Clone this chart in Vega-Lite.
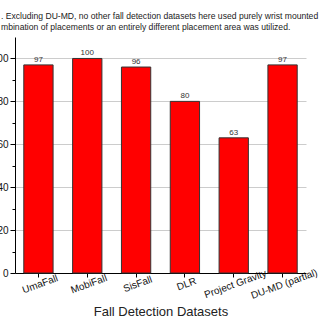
{
  "$schema": "https://vega.github.io/schema/vega-lite/v6.json",
  "width": 291,
  "height": 236,
  "autosize": {"type": "none"},
  "padding": {"left": 15, "top": 37, "right": 14, "bottom": 47},
  "background": "white",
  "config": {"view": {"stroke": null}, "font": "Liberation Sans"},
  "title": {
    "text": [". Excluding DU-MD, no other fall detection datasets here used purely wrist mounted", "mbination of placements or an entirely different placement area was utilized."],
    "anchor": "start",
    "frame": "group",
    "dx": -14,
    "fontSize": 8.6,
    "fontWeight": "normal",
    "color": "#222",
    "offset": 5,
    "lineHeight": 11
  },
  "data": {
    "values": [
      {"dataset": "UmaFall", "value": 97},
      {"dataset": "MobiFall", "value": 100},
      {"dataset": "SisFall", "value": 96},
      {"dataset": "DLR", "value": 80},
      {"dataset": "Project Gravity", "value": 63},
      {"dataset": "DU-MD (partial)", "value": 97}
    ]
  },
  "encoding": {
    "x": {
      "field": "dataset",
      "type": "nominal",
      "sort": null,
      "scale": {"paddingInner": 0.4, "paddingOuter": 0.18},
      "axis": {
        "title": "Fall Detection Datasets",
        "titleFontSize": 13,
        "titleFontWeight": "normal",
        "titleColor": "#222",
        "titlePadding": 5,
        "labelAngle": -20,
        "labelAlign": "center",
        "labelBaseline": "top",
        "labelFontSize": 10,
        "labelColor": "#111",
        "labelPadding": 2,
        "tickSize": 4,
        "tickColor": "#000",
        "domainColor": "#000",
        "labelLimit": 200
      }
    },
    "y": {
      "field": "value",
      "type": "quantitative",
      "scale": {"domain": [0, 110], "nice": false},
      "axis": {
        "title": null,
        "values": [0, 10, 20, 30, 40, 50, 60, 70, 80, 90, 100],
        "labelExpr": "datum.value % 20 === 0 ? datum.label : ''",
        "labelFontSize": 10,
        "labelColor": "#111",
        "labelPadding": 2,
        "tickSize": {"condition": {"test": "datum.value % 20 === 0", "value": 5}, "value": 3},
        "tickColor": "#000",
        "domainColor": "#000",
        "grid": true,
        "gridColor": "#cccccc",
        "gridOpacity": {"condition": {"test": "datum.value % 20 === 0 && datum.value > 0", "value": 1}, "value": 0}
      }
    }
  },
  "layer": [
    {
      "mark": {"type": "bar", "fill": "#ff0000", "stroke": "#333", "strokeWidth": 1}
    },
    {
      "mark": {"type": "text", "baseline": "bottom", "dy": -1, "fontSize": 8, "color": "#333"},
      "encoding": {"text": {"field": "value", "type": "quantitative"}}
    }
  ]
}
